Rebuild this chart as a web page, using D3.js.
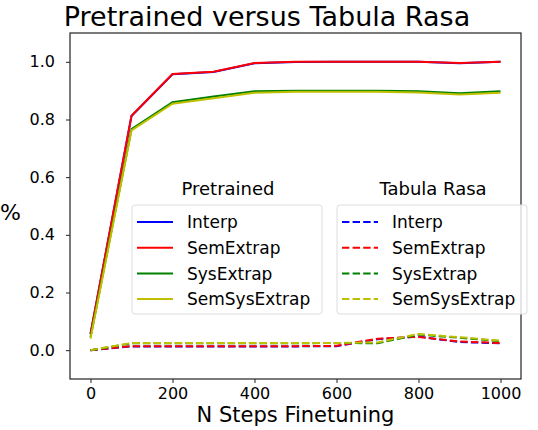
<!DOCTYPE html>
<html>
<head>
<meta charset="utf-8">
<script src="https://cdn.jsdelivr.net/npm/d3@7"></script>
<style>
  body { margin: 0; background: #fff; }
  text { font-family: "DejaVu Sans", sans-serif; fill: #000; }
</style>
</head>
<body>
<div id="chart"></div>
<script>
// steps along the x axis
const steps = [0, 100, 200, 300, 400, 500, 600, 700, 800, 900, 1000];
const seriesNames = ["Interp", "SemExtrap", "SysExtrap", "SemSysExtrap"];
const seriesColors = ["#0000ff", "#ff0000", "#008000", "#bfbf00"];

// pretrained runs
const preInterp       = [0.055, 0.812, 0.957, 0.965, 0.995, 0.999, 1.0, 1.0, 1.0, 0.995, 1.0];
const preSemExtrap    = [0.057, 0.813, 0.958, 0.966, 0.996, 1.0, 1.0, 1.0, 1.0, 0.996, 1.0];
const preSysExtrap    = [0.045, 0.767, 0.860, 0.880, 0.898, 0.900, 0.900, 0.900, 0.898, 0.891, 0.898];
const preSemSysExtrap = [0.040, 0.762, 0.855, 0.874, 0.893, 0.896, 0.896, 0.896, 0.894, 0.887, 0.893];

// tabula rasa runs
const trInterp        = [0.0, 0.013, 0.013, 0.013, 0.013, 0.013, 0.014, 0.038, 0.047, 0.028, 0.024];
const trSemExtrap     = [0.0, 0.014, 0.014, 0.014, 0.014, 0.014, 0.015, 0.040, 0.046, 0.030, 0.025];
const trSysExtrap     = [0.0, 0.024, 0.024, 0.024, 0.024, 0.024, 0.025, 0.024, 0.054, 0.043, 0.031];
const trSemSysExtrap  = [0.0, 0.025, 0.025, 0.025, 0.025, 0.025, 0.025, 0.027, 0.056, 0.045, 0.033];

const xTicks = [0, 200, 400, 600, 800, 1000];
const yTicks = [0.0, 0.2, 0.4, 0.6, 0.8, 1.0];

const pretrained = [preInterp, preSemExtrap, preSysExtrap, preSemSysExtrap];
const tabulaRasa = [trInterp, trSemExtrap, trSysExtrap, trSemSysExtrap];

const svgWidth = 538, svgHeight = 430;
const margin = { top: 33, right: 17, bottom: 51, left: 70 };
const width = svgWidth - margin.left - margin.right;
const height = svgHeight - margin.top - margin.bottom;

const svg = d3.select("#chart").append("svg")
    .attr("width", svgWidth)
    .attr("height", svgHeight);

const g = svg.append("g")
    .attr("transform", `translate(${margin.left}, ${margin.top})`);

const x = d3.scaleLinear().domain([-50, 1050]).range([0, width]);
const y = d3.scaleLinear().domain([-0.1, 1.1]).range([height, 0]);

// axes
const xAxis = g.append("g")
    .attr("transform", `translate(0, ${height})`)
    .call(d3.axisBottom(x).tickValues(xTicks).tickSize(4).tickPadding(5).tickFormat(d3.format("d")));
const yAxis = g.append("g")
    .call(d3.axisLeft(y).tickValues(yTicks).tickSize(4).tickPadding(11).tickFormat(d3.format(".1f")));
[xAxis, yAxis].forEach(a => {
    a.select(".domain").remove();
    a.selectAll("line").attr("stroke", "#222").attr("stroke-width", 1);
    a.selectAll("text").style("font-size", "16px").attr("fill", "#000");
});

// lines
const line = d3.line()
    .x((d, i) => x(steps[i]))
    .y(d => y(d));

tabulaRasa.forEach((vals, i) => {
    g.append("path")
        .datum(vals)
        .attr("d", line)
        .attr("fill", "none")
        .attr("stroke", seriesColors[i])
        .attr("stroke-width", 2)
        .attr("stroke-dasharray", "7.4,3.2");
});
pretrained.forEach((vals, i) => {
    g.append("path")
        .datum(vals)
        .attr("d", line)
        .attr("fill", "none")
        .attr("stroke", seriesColors[i])
        .attr("stroke-width", 2);
});

// frame
g.append("rect")
    .attr("width", width)
    .attr("height", height)
    .attr("fill", "none")
    .attr("stroke", "#222")
    .attr("stroke-width", 1.2);

// titles
svg.append("text")
    .attr("x", 267)
    .attr("y", 26)
    .attr("text-anchor", "middle")
    .style("font-size", "27px")
    .text("Pretrained versus Tabula Rasa");

svg.append("text")
    .attr("x", margin.left + width / 2)
    .attr("y", 422)
    .attr("text-anchor", "middle")
    .style("font-size", "21px")
    .text("N Steps Finetuning");

svg.append("text")
    .attr("x", 0)
    .attr("y", 220)
    .style("font-size", "22px")
    .text("%");

// legends
function drawLegend(left, title, dashed) {
    const lg = svg.append("g").attr("class", "legend");
    lg.append("text")
        .attr("x", left + 96)
        .attr("y", 195)
        .attr("text-anchor", "middle")
        .style("font-size", "18px")
        .text(title);
    lg.append("rect")
        .attr("x", left)
        .attr("y", 205)
        .attr("width", 190)
        .attr("height", 109)
        .attr("rx", 3)
        .attr("fill", "rgba(255,255,255,0.8)")
        .attr("stroke", "#ddd");
    seriesNames.forEach((name, i) => {
        const cy = 222 + i * 25.7;
        lg.append("line")
            .attr("x1", left + 5)
            .attr("x2", left + 41)
            .attr("y1", cy)
            .attr("y2", cy)
            .attr("stroke", seriesColors[i])
            .attr("stroke-width", 2)
            .attr("stroke-dasharray", dashed ? "7.4,3.2" : null);
        lg.append("text")
            .attr("x", left + 55)
            .attr("y", cy)
            .attr("dy", "0.36em")
            .style("font-size", "17px")
            .text(name);
    });
}
drawLegend(132, "Pretrained", false);
drawLegend(337, "Tabula Rasa", true);
</script>
</body>
</html>
